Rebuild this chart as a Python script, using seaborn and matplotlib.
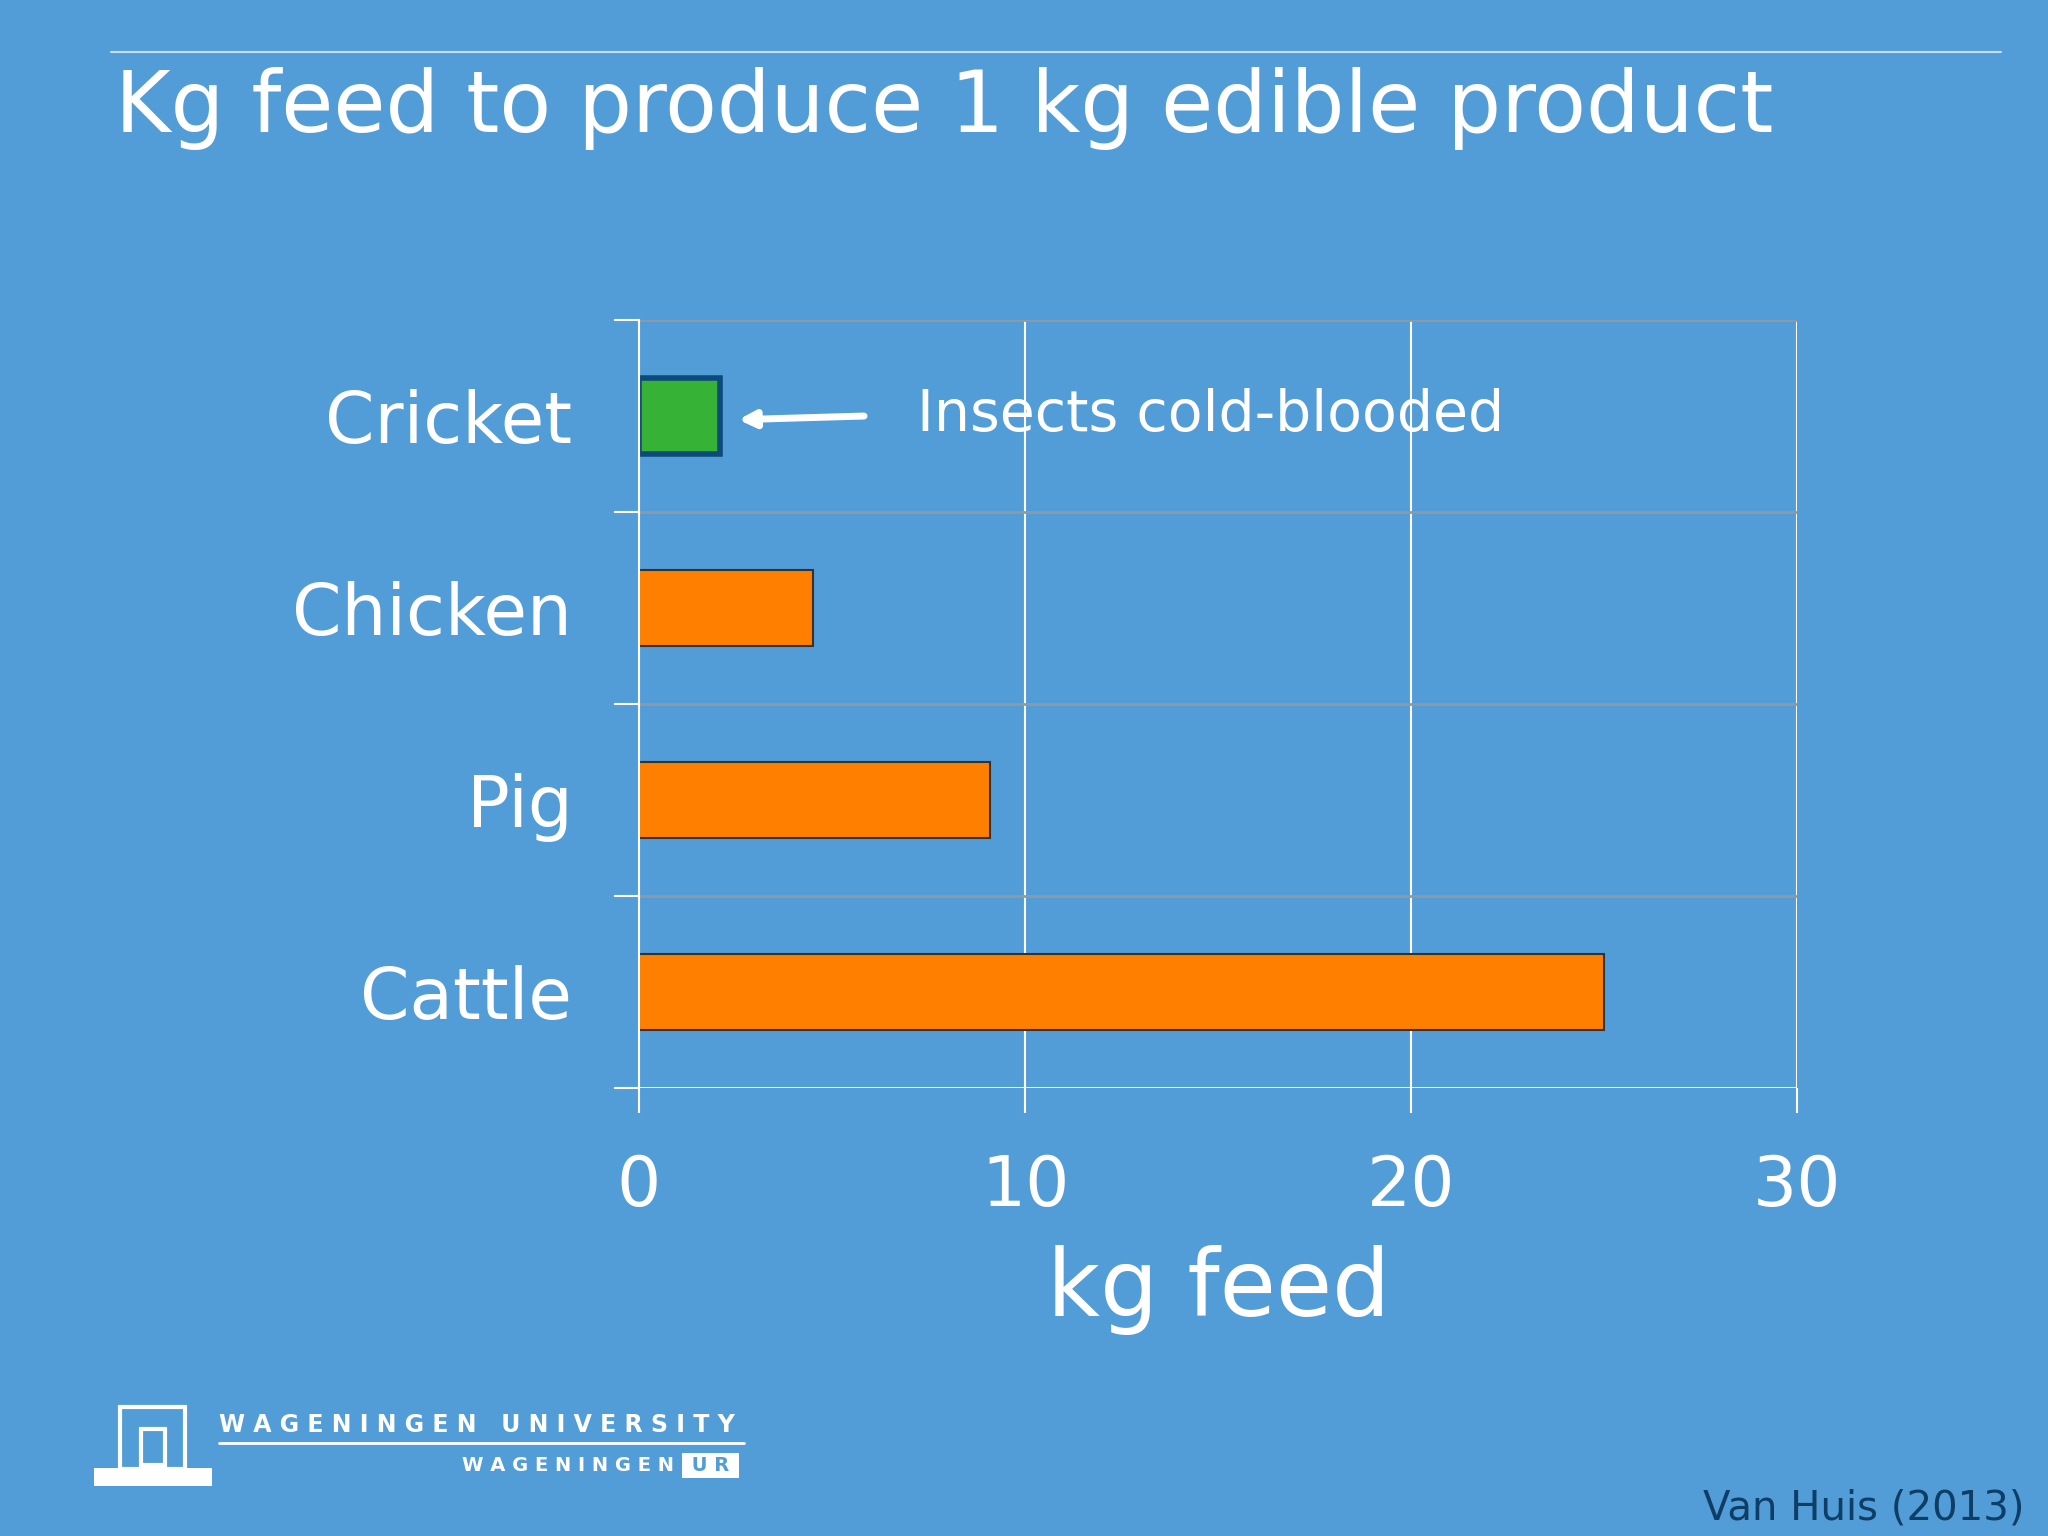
import matplotlib
matplotlib.use("Agg")
import matplotlib.pyplot as plt
import seaborn as sns
import pandas as pd
from matplotlib.lines import Line2D

categories = ["Cricket", "Chicken", "Pig", "Cattle"]
values = [2.1, 4.5, 9.1, 25.0]
colors = ["#36B236", "#FF7F00", "#FF7F00", "#FF7F00"]
edges = ["#0B4A7A", "#333333", "#333333", "#333333"]
xticks = [0, 10, 20, 30]

bg = "#529DD7"
sns.set_theme(style="white")
plt.rcParams['font.family'] = ['DejaVu Sans']

fig = plt.figure(figsize=(20.48, 15.36), dpi=100, facecolor=bg)
ax = fig.add_axes([0.312, 0.2917, 0.5656, 0.5])
ax.set_facecolor(bg)

df = pd.DataFrame({"animal": categories, "feed": values})
sns.barplot(data=df, y="animal", x="feed", hue="animal", palette=colors,
            orient="h", width=0.4, legend=False, ax=ax, saturation=1)
for p, ec in zip(ax.patches, edges):
    p.set_edgecolor(ec)
    p.set_linewidth(1.5 if ec == "#333333" else 4)

ax.set_xlim(0, 30)
ax.set_ylim(3.5, -0.5)
ax.set_xticks(xticks)
ax.set_xticklabels([str(t) for t in xticks], color="white", fontsize=50)
ax.tick_params(axis="x", bottom=True, length=18, color="white", width=1.5, pad=29)
ax.set_yticks([-0.5, 0.5, 1.5, 2.5, 3.5], minor=False)
ax.set_yticklabels([])
ax.tick_params(axis="y", which="major", left=True, length=18, color="white", width=1.5)
ax.set_yticks([0, 1, 2, 3], minor=True)
ax.set_yticklabels(categories, minor=True, color="white", fontsize=51)
ax.tick_params(axis="y", which="minor", left=True, length=0, pad=48)
for x in [10, 20, 30]:
    ax.axvline(x, color="white", lw=1.5, zorder=0)
for y in [-0.5, 0.5, 1.5, 2.5]:
    ax.axhline(y, color="#8C9AA6", lw=2, zorder=0)
ax.axhline(3.5, color="white", lw=2, zorder=0)
for s in ["top", "right", "bottom"]:
    ax.spines[s].set_visible(False)
ax.spines["left"].set_color("white")
ax.spines["left"].set_linewidth(1.5)
ax.set_ylabel("")
ax.set_xlabel("kg feed", color="white", fontsize=66, labelpad=18)

ax.annotate("", xy=(2.5, 0.02), xytext=(5.9, 0.0),
            arrowprops=dict(arrowstyle="-|>,head_length=0.8,head_width=0.4", color="white", lw=5))
ax.text(7.2, 0.0, "Insects cold-blooded", color="white", fontsize=41, va="center")

fig.add_artist(Line2D([85/1568, 1532/1568], [1-40/1176]*2, color="#C9DDEE", lw=1.5))
fig.text(88/1568, 1-83/1176, "Kg feed to produce 1 kg edible product", color="white",
         fontsize=61, va="center")
fig.text(1550/1568, 1-1155/1176, "Van Huis (2013)", color="#0E3E66", fontsize=29,
         ha="right", va="center")
# logo
fig.text(168/1568, 1-1091/1176, "W A G E N I N G E N   U N I V E R S I T Y", color="white",
         fontsize=17, va="center", weight="bold")
fig.add_artist(Line2D([168/1568, 570/1568], [1-1105/1176]*2, color="white", lw=2))
fig.text(516/1568, 1-1122/1176, "W A G E N I N G E N", color="white", fontsize=14,
         va="center", ha="right", weight="bold")
fig.text(544/1568, 1-1122/1176, " U R ", color=bg, fontsize=14, va="center", ha="center",
         weight="bold", bbox=dict(facecolor="white", edgecolor="none", pad=2))
fig.add_artist(plt.Rectangle((92/1568, 1-1125/1176), 50/1568, 48/1176, fill=False,
                             edgecolor="white", lw=3, transform=fig.transFigure))
fig.add_artist(plt.Rectangle((108/1568, 1-1122/1176), 18/1568, 28/1176, fill=False,
                             edgecolor="white", lw=3, transform=fig.transFigure))
fig.add_artist(plt.Rectangle((72/1568, 1-1138/1176), 90/1568, 14/1176, facecolor="white",
                             edgecolor="none", transform=fig.transFigure))

fig.savefig("out.png", dpi=100, facecolor=bg)
